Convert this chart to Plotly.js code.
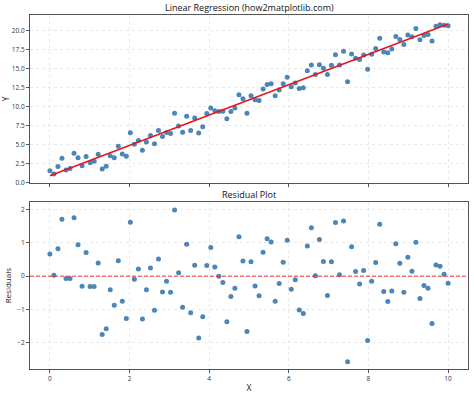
<!DOCTYPE html>
<html>
<head>
<meta charset="utf-8">
<script src="https://cdn.plot.ly/plotly-3.0.1.min.js"></script>
<style>html,body{margin:0;padding:0;background:#fff;}#chart{width:474px;height:395px;}</style>
</head>
<body>
<div id="chart"></div>
<script>
var xValues = [0, 0.101, 0.202, 0.303, 0.404, 0.505, 0.606, 0.707, 0.808, 0.909,
  1.010, 1.111, 1.212, 1.313, 1.414, 1.515, 1.616, 1.717, 1.818, 1.919,
  2.020, 2.121, 2.222, 2.323, 2.424, 2.525, 2.626, 2.727, 2.828, 2.929,
  3.030, 3.131, 3.232, 3.333, 3.434, 3.535, 3.636, 3.737, 3.838, 3.939,
  4.040, 4.141, 4.242, 4.343, 4.444, 4.545, 4.646, 4.747, 4.848, 4.949,
  5.051, 5.152, 5.253, 5.354, 5.455, 5.556, 5.657, 5.758, 5.859, 5.960,
  6.061, 6.162, 6.263, 6.364, 6.465, 6.566, 6.667, 6.768, 6.869, 6.970,
  7.071, 7.172, 7.273, 7.374, 7.475, 7.576, 7.677, 7.778, 7.879, 7.980,
  8.081, 8.182, 8.283, 8.384, 8.485, 8.586, 8.687, 8.788, 8.889, 8.990,
  9.091, 9.192, 9.293, 9.394, 9.495, 9.596, 9.697, 9.798, 9.899, 10.0];

var yValues = [1.54, 1.10, 2.10, 3.19, 1.61, 1.81, 3.84, 3.23, 2.18, 3.40,
  2.58, 2.78, 3.69, 1.74, 2.12, 3.49, 3.23, 4.77, 3.75, 3.44,
  6.53, 5.02, 5.53, 4.23, 5.31, 6.17, 5.10, 6.84, 6.05, 6.58,
  6.45, 9.12, 7.44, 6.60, 8.70, 6.84, 8.47, 6.49, 7.33, 9.07,
  9.81, 9.43, 9.35, 9.37, 8.39, 9.35, 9.80, 11.55, 11.02, 9.11,
  11.41, 10.88, 10.79, 12.30, 12.91, 13.01, 11.43, 12.17, 13.01, 13.87,
  12.60, 13.09, 12.38, 12.48, 14.71, 15.46, 14.22, 15.51, 15.05, 14.23,
  15.45, 16.83, 15.46, 17.28, 13.25, 16.91, 16.37, 16.19, 16.80, 14.90,
  16.88, 17.65, 19.00, 17.18, 17.08, 17.60, 19.22, 18.84, 18.17, 19.42,
  19.20, 20.28, 18.79, 19.38, 19.50, 18.64, 20.60, 20.77, 20.73, 20.66];

var xTicks = [0, 2, 4, 6, 8, 10];
var yTicksTop = [0, 2.5, 5, 7.5, 10, 12.5, 15, 17.5, 20];
var yTicksBottom = [-2, -1, 0, 1, 2];

// least-squares fit
var n = xValues.length, sx = 0, sy = 0, sxx = 0, sxy = 0;
for (var i = 0; i < n; i++) { sx += xValues[i]; sy += yValues[i]; sxx += xValues[i]*xValues[i]; sxy += xValues[i]*yValues[i]; }
var slope = (n*sxy - sx*sy) / (n*sxx - sx*sx);
var intercept = (sy - slope*sx) / n;
var yFit = xValues.map(function(x){ return intercept + slope*x; });
var residuals = yValues.map(function(y, k){ return y - yFit[k]; });

var font = "'Open Sans', 'Noto Sans', 'DejaVu Sans', sans-serif";
var pointColor = '#4b86b8';

var traces = [
  {x: xValues, y: yValues, type: 'scatter', mode: 'markers', marker: {size: 5, color: pointColor}, xaxis: 'x', yaxis: 'y', hoverinfo: 'skip'},
  {x: xValues, y: yFit, type: 'scatter', mode: 'lines', line: {color: '#e8141b', width: 1.5}, xaxis: 'x', yaxis: 'y', hoverinfo: 'skip'},
  {x: xValues, y: residuals, type: 'scatter', mode: 'markers', marker: {size: 5, color: pointColor}, xaxis: 'x2', yaxis: 'y2', hoverinfo: 'skip'}
];

function axisBase() {
  return {showline: true, mirror: true, linecolor: '#555', linewidth: 1,
    ticks: 'outside', ticklen: 3, tickwidth: 1, tickcolor: '#555',
    showgrid: true, gridcolor: '#e3e3e3', gridwidth: 0.8, griddash: 'dot',
    zeroline: false, tickfont: {family: font, size: 6.5, color: '#333'}};
}

var xa = axisBase(); xa.domain = [0, 1]; xa.range = [-0.5, 10.5]; xa.tickvals = xTicks; xa.showticklabels = false; xa.anchor = 'y';
var xa2 = axisBase(); xa2.domain = [0, 1]; xa2.range = [-0.5, 10.5]; xa2.tickvals = xTicks; xa2.anchor = 'y2'; xa2.matches = 'x';
xa2.title = {text: 'X', font: {family: font, size: 8.5, color: '#222'}, standoff: 3};
var ya = axisBase(); ya.domain = [0.5263, 1]; ya.range = [-0.05, 22.07]; ya.tickvals = yTicksTop; ya.tickformat = '.1f'; ya.anchor = 'x';
ya.title = {text: 'Y', font: {family: font, size: 8.5, color: '#222'}, standoff: 4};
var ya2 = axisBase(); ya2.domain = [0, 0.4709]; ya2.range = [-2.79, 2.22]; ya2.tickvals = yTicksBottom; ya2.anchor = 'x2';
ya2.title = {text: 'Residuals', font: {family: font, size: 8, color: '#222'}, standoff: 4};

var layout = {
  width: 474, height: 395,
  margin: {l: 30, r: 6, t: 15, b: 26},
  paper_bgcolor: '#fff', plot_bgcolor: '#fff',
  showlegend: false,
  xaxis: xa, xaxis2: xa2, yaxis: ya, yaxis2: ya2,
  shapes: [
    {type: 'line', xref: 'x2 domain', yref: 'y2', x0: 0, x1: 1, y0: 0, y1: 0, line: {color: '#ff2a2a', width: 1, dash: '4px,2px'}}
  ],
  annotations: [
    {text: 'Linear Regression (how2matplotlib.com)', xref: 'paper', yref: 'paper', x: 0.5, y: 1, yanchor: 'bottom', yshift: -1, showarrow: false, font: {family: font, size: 9, color: '#111'}},
    {text: 'Residual Plot', xref: 'paper', yref: 'paper', x: 0.5, y: 0.4709, yanchor: 'bottom', yshift: -1, showarrow: false, font: {family: font, size: 9, color: '#111'}}
  ]
};

Plotly.newPlot('chart', traces, layout, {displayModeBar: false, staticPlot: true});
</script>
</body>
</html>
